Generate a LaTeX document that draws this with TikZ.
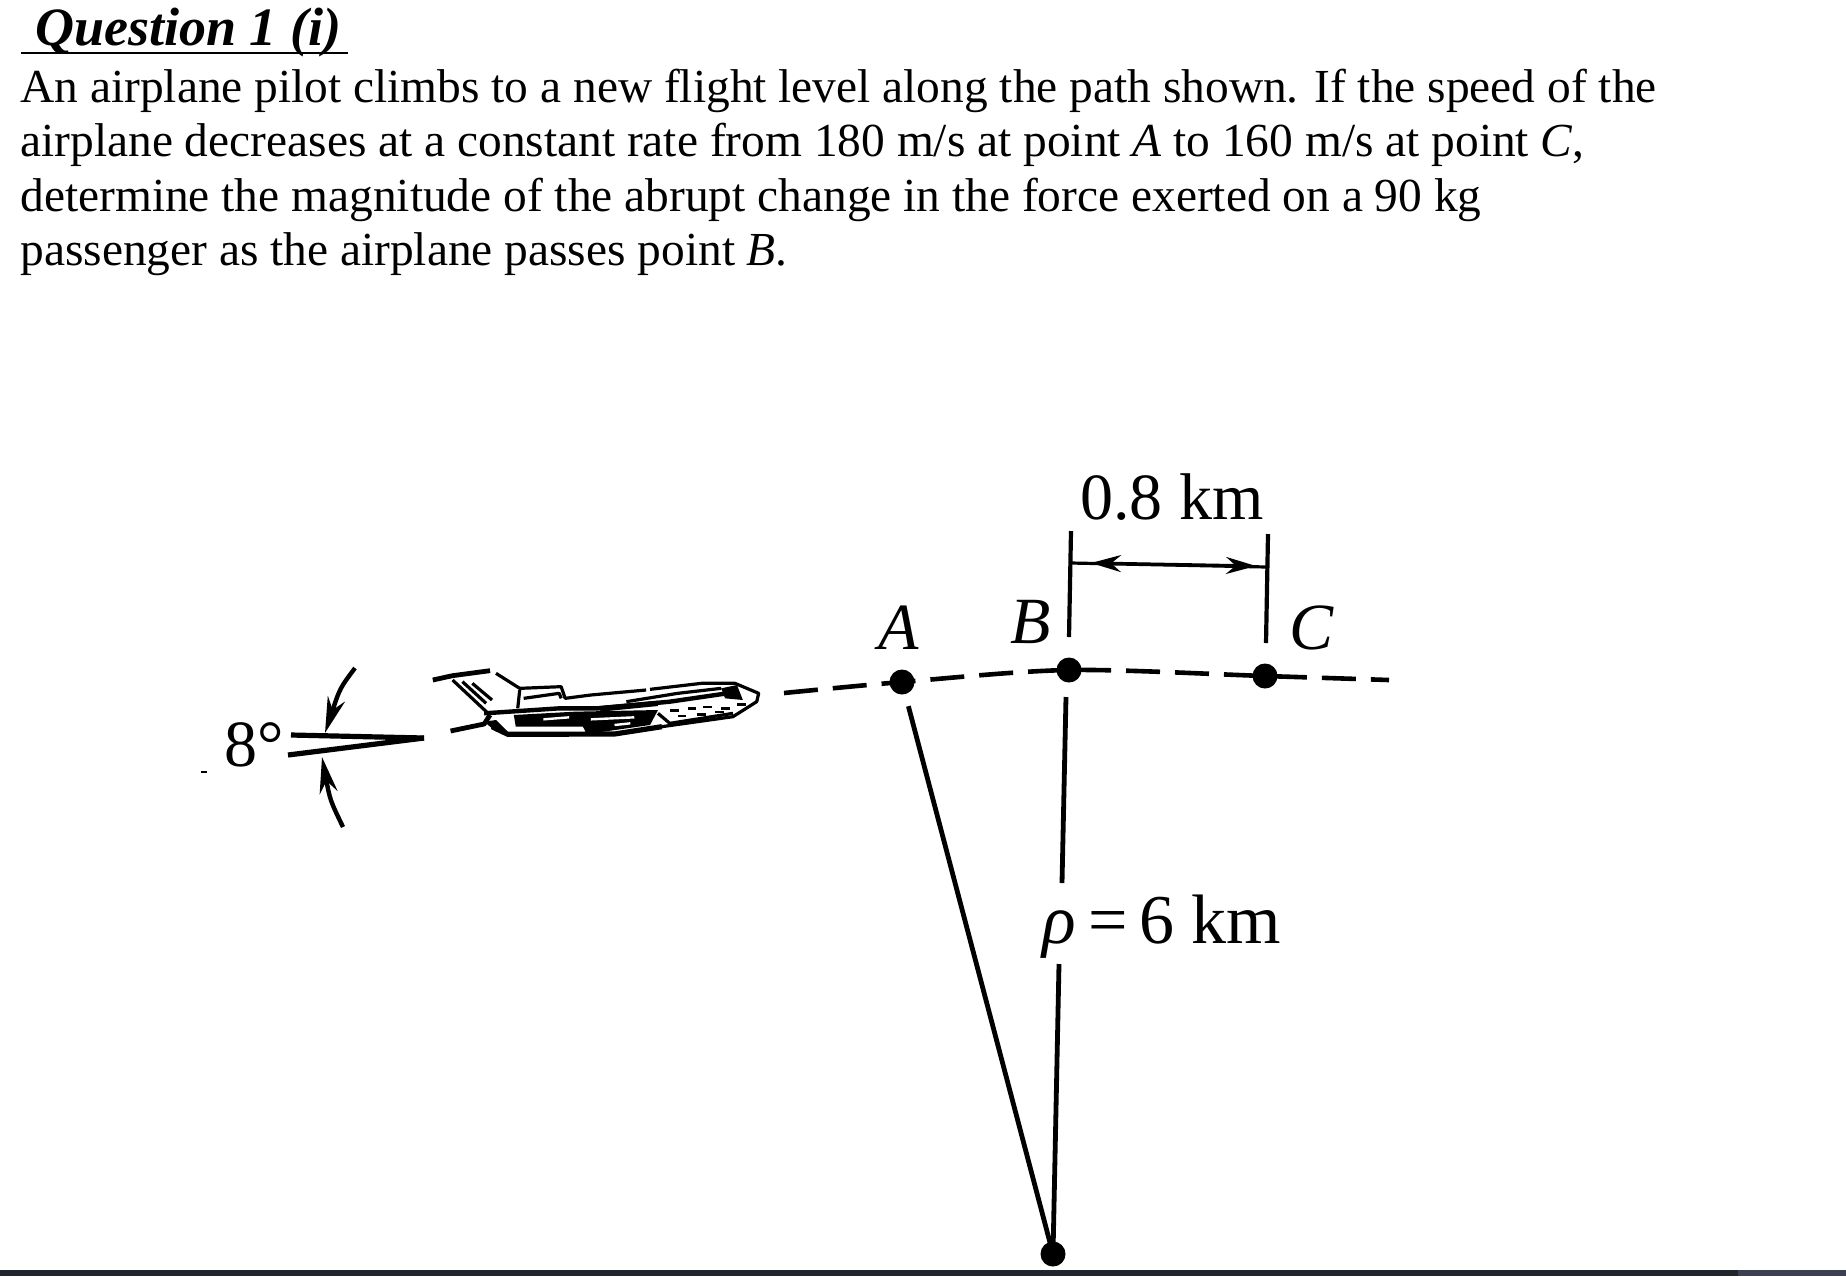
\documentclass[tikz,border=0pt]{standalone}
\usepackage{fontspec}
\setmainfont{Liberation Serif}
\usetikzlibrary{arrows.meta}
\definecolor{barleft}{HTML}{20262E}
\definecolor{barright}{HTML}{3B4050}
\begin{document}
\begin{tikzpicture}[
    x=0.5pt, y=-0.5pt,
    every node/.style={draw=none, inner sep=0pt, anchor=base west},
    point/.style={circle, fill=black, minimum size=12.5pt, anchor=center},
    label/.style={font=\fontsize{33}{33}\selectfont},
    letter/.style={font=\fontsize{33}{33}\selectfont\itshape},
    flightpath/.style={line width=2.3pt, dash pattern=on 17pt off 7.5pt},
    extline/.style={line width=2.1pt},
    rholine/.style={line width=2.4pt},
    dimline/.style={line width=1.6pt},
    anglearc/.style={line width=2.2pt, -{Stealth[length=18pt, width=9pt]}},
    planeline/.style={line width=1.6pt, line join=round}
]
\useasboundingbox (0,0) rectangle (1846,1276);
% bar along the lower edge
\fill[barleft] (0,1270) rectangle (1738,1276);
\fill[barright] (1738,1270) rectangle (1846,1276);

% question text
\node (title) at (35,45) {\fontsize{27}{27}\selectfont\bfseries\itshape Question 1 (i)};
\draw[line width=0.6pt] (21,53) -- (348,53);
\node[align=left, anchor=north west, font=\fontsize{23.7}{27.2}\selectfont] (problem) at (20,68.5) {%
An airplane pilot climbs to a new flight level along the path shown. If the speed of the\\
airplane decreases at a constant rate from 180 m/s at point \textit{A} to 160 m/s at point \textit{C},\\
determine the magnitude of the abrupt change in the force exerted on a 90 kg\\
passenger as the airplane passes point \textit{B}.};

% points on the path
\node[point] (A) at (902,682) {};
\node[point] (B) at (1069,670) {};
\node[point] (C) at (1265,676) {};
\node[point] (O) at (1053,1254) {};
\coordinate (pathstart) at (784,693);
\coordinate (pathend) at (1389,680);
\draw[flightpath] plot[smooth] coordinates {(pathstart) (A.center) (B.center) (C.center) (pathend)};

\node[letter] (labelA) at (878,649) {A};
\node[letter] (labelB) at (1010,643) {B};
\node[letter] (labelC) at (1289,649) {C};

% dimension
\coordinate (Btop) at (1071,531);
\coordinate (Bbot) at (1069,637);
\coordinate (Ctop) at (1268,534);
\coordinate (Cbot) at (1266,643);
\draw[extline] (Btop) -- (Bbot);
\draw[extline] (Ctop) -- (Cbot);
\coordinate (dimleft) at (1071,563);
\coordinate (dimright) at (1267,567);
\coordinate (tipleft) at (1091,563);
\coordinate (tipright) at (1256,566);
\draw[dimline] (dimleft) -- (dimright);
\draw[dimline, {Stealth[length=15pt, width=8.5pt]}-{Stealth[length=15pt, width=8.5pt]}] (tipleft) -- (tipright);
\node[label] (dist) at (1080,519) {0.8 km};

% radii
\coordinate (rhostart) at (1066,697);
\coordinate (rhotop) at (1062,883);
\coordinate (rhobot) at (1059,964);
\draw[rholine] (rhostart) -- (rhotop);
\draw[rholine] (rhobot) -- (O.center);
\draw[rholine, shorten <=12.5pt] (A.center) -- (O.center);
\node[font=\fontsize{35}{35}\selectfont] (rho) at (1042,943) {\textit{ρ}\kern6pt=\kern6pt6 km};

% angle at the left
\coordinate (vertex) at (424,738);
\coordinate (upleft) at (291,735);
\coordinate (lowleft) at (288,755);
\draw[line width=2.6pt] (upleft) -- (vertex);
\draw[line width=2.6pt] (lowleft) -- (vertex);
\coordinate (arcAstart) at (355,668);
\coordinate (arcAend) at (325,733);
\coordinate (arcBstart) at (343,827);
\coordinate (arcBend) at (322,757);
\draw[anglearc] (arcAstart) .. controls (340,688) .. (arcAend);
\draw[anglearc] (arcBstart) .. controls (330,800) .. (arcBend);
\node[font=\fontsize{33}{33}\selectfont] (angle) at (224,766) {8°};
\fill (201,771) rectangle (207,773);

% airplane
\begin{scope}[shift={(180,630)}, xscale=0.395, yscale=0.3333]
% tail
\draw[planeline, line width=2.4pt] (640,150) -- (690,137) -- (785,122);
\draw[planeline] (690,150) -- (780,250);
\draw[planeline] (715,155) -- (775,220);
\draw[planeline] (740,160) -- (790,210);
\draw[planeline, line width=2.4pt] (685,303) -- (770,282) -- (785,255);
% engine and upper edge
\draw[planeline] (800,130) -- (860,175) -- (965,170) -- (975,205) -- (1040,195) -- (1180,180);
\draw[planeline] (1190,178) -- (1320,160) -- (1405,160) -- (1465,190) -- (1460,215) -- (1400,260) -- (1220,290);
\draw[planeline] (860,180) -- (855,235);
\draw[planeline] (870,205) -- (960,190) -- (965,205);
% lower edge
\draw[planeline, line width=2.6pt] (790,290) -- (830,313) -- (1100,312) -- (1220,290);
% inner lines
\draw[planeline, line width=2.2pt] (770,250) -- (960,235) -- (1060,235) -- (1240,215) -- (1385,190);
\draw[planeline] (1130,215) -- (1260,190) -- (1370,175);
\fill (770,275) -- (800,305) -- (830,305) -- (800,270) -- cycle;
\fill (845,255) -- (1000,245) -- (1210,240) -- (1190,285) -- (1090,302) -- (1030,312) -- (1020,290) -- (850,290) -- cycle;
\fill (1060,228) -- (1210,212) -- (1210,228) -- (1065,245) -- cycle;
\draw[white, line width=1.2pt] (920,268) -- (985,262);
\draw[white, line width=1.2pt] (1040,268) -- (1150,262);
\draw[white, line width=1.2pt] (1100,285) -- (1140,280);
% nose and windows
\fill (1370,175) -- (1410,165) -- (1425,210) -- (1380,205) -- cycle;
\draw[planeline] (1210,250) -- (1240,280) -- (1400,250);
\foreach \winx/\winy in {1240/245, 1285/240, 1325/235, 1370/240, 1410/228, 1260/262, 1310/258, 1355/250}
    \fill (\winx,\winy) rectangle ++(22,-8);
\end{scope}
\end{tikzpicture}
\end{document}
